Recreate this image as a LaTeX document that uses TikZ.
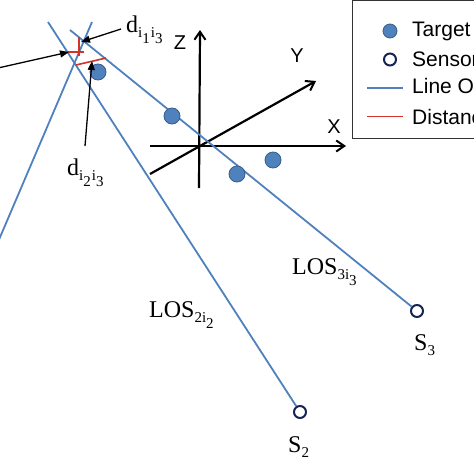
\documentclass[tikz,border=0pt]{standalone}
\usepackage{fontspec}
\setmainfont{Liberation Serif}
\setsansfont{Liberation Sans}
\usetikzlibrary{arrows.meta}
\definecolor{losblue}{RGB}{79,129,189}
\definecolor{tgtedge}{RGB}{56,93,138}
\definecolor{snsedge}{RGB}{23,37,84}
\definecolor{distred}{RGB}{210,50,40}
\newcommand\lowsub[1]{\raisebox{-5.5pt}{\fontsize{15}{15}\selectfont #1}}
\tikzset{
  los/.style={draw=losblue,line width=1.8pt},
  dist/.style={draw=distred,line width=1.6pt},
  axis/.style={draw=black,line width=2.2pt,-{Straight Barb[length=8pt,width=11pt,line width=2pt]}},
  pointer/.style={draw=black,line width=1.3pt,-{Triangle[length=9pt,width=7pt]}},
  target/.style={circle,fill=losblue,draw=tgtedge,line width=0.8pt,minimum size=16pt,inner sep=0pt},
  sensor/.style={circle,fill=white,draw=snsedge,line width=2pt,minimum size=12pt,inner sep=0pt},
  lbl/.style={font=\fontsize{24}{26}\selectfont,inner sep=0pt},
  axlbl/.style={font=\sffamily\fontsize{20}{22}\selectfont,inner sep=0pt},
  leg/.style={font=\sffamily\fontsize{21}{23}\selectfont,inner sep=0pt,anchor=west}
}
\begin{document}
\begin{tikzpicture}[x=1pt,y=-1pt]
\useasboundingbox (0,0) rectangle (474,474);
\clip (0,0) rectangle (474,474);
% axes
\coordinate (zb) at (199,188); \coordinate (zt) at (200,30);
\coordinate (xb) at (150,146); \coordinate (xt) at (346,146);
\coordinate (yb) at (150,174); \coordinate (yt) at (316,81);
\draw[axis] (zb) -- (zt);
\draw[axis] (xb) -- (xt);
\draw[axis] (yb) -- (yt);
\node[axlbl] (zl) at (180,43) {Z};
\node[axlbl] (yl) at (297,56) {Y};
\node[axlbl] (xl) at (334,127) {X};
% sensors
\node[sensor] (s2) at (300,412) {};
\node[sensor] (s3) at (417,311) {};
% lines of sight
\coordinate (a0) at (48,22);
\coordinate (b0) at (92,22);
\coordinate (b1) at (-8,256);
\coordinate (c0) at (70,30);
\draw[los] (a0) -- (s2);
\draw[los] (b0) -- (b1);
\draw[los] (c0) -- (s3);
% targets
\node[target] (t1) at (98,72) {};
\node[target] (t2) at (172,116) {};
\node[target] (t3) at (237,174) {};
\node[target] (t4) at (273,160) {};
% distance marks
\coordinate (r1a) at (79,37); \coordinate (r1b) at (79,56);
\coordinate (r2a) at (68,52); \coordinate (r2b) at (84,52);
\coordinate (r3a) at (76,65); \coordinate (r3b) at (106,58);
\draw[dist] (r1a) -- (r1b);
\draw[dist] (r2a) -- (r2b);
\draw[dist] (r3a) -- (r3b);
% pointer arrows
\coordinate (p1s) at (121,29); \coordinate (p1e) at (81,42);
\coordinate (p2s) at (-2,68); \coordinate (p2e) at (69,52);
\coordinate (p3s) at (85,146); \coordinate (p3e) at (92,61);
\draw[pointer] (p1s) -- (p1e);
\draw[pointer] (p2s) -- (p2e);
\draw[pointer] (p3s) -- (p3e);
% labels
\node[lbl,anchor=base west] (d13) at (126,32) {d\lowsub{i\lowsub{1}\kern1pt i\lowsub{3}}};
\node[lbl,anchor=base west] (d23) at (67,175) {d\lowsub{i\lowsub{2}\kern1pt i\lowsub{3}}};
\node[lbl,anchor=base west] (los2) at (149,317) {LOS\lowsub{2i\lowsub{2}}};
\node[lbl,anchor=base west] (los3) at (292,274) {LOS\lowsub{3i\lowsub{3}}};
\node[lbl,anchor=base west] (s3l) at (414,350) {S\lowsub{3}};
\node[lbl,anchor=base west] (s2l) at (288,452) {S\lowsub{2}};
% legend
\draw[draw=black!80,line width=1pt] (480,0) -- (352,0) -- (352,138) -- (480,138);
\node[target,minimum size=14pt] (lt) at (390,31) {};
\node[sensor,minimum size=12pt] (ls) at (390,59.5) {};
\coordinate (lb0) at (367,88); \coordinate (lb1) at (403,88);
\coordinate (lr0) at (367,116.5); \coordinate (lr1) at (403,116.5);
\draw[los] (lb0) -- (lb1);
\draw[dist] (lr0) -- (lr1);
\node[leg] (lgt) at (412,31) {Target};
\node[leg] (lgs) at (412,59.5) {Sensor};
\node[leg] (lgl) at (412,88) {Line Of Sight};
\node[leg] (lgd) at (412,116.5) {Distance};
\end{tikzpicture}
\end{document}
